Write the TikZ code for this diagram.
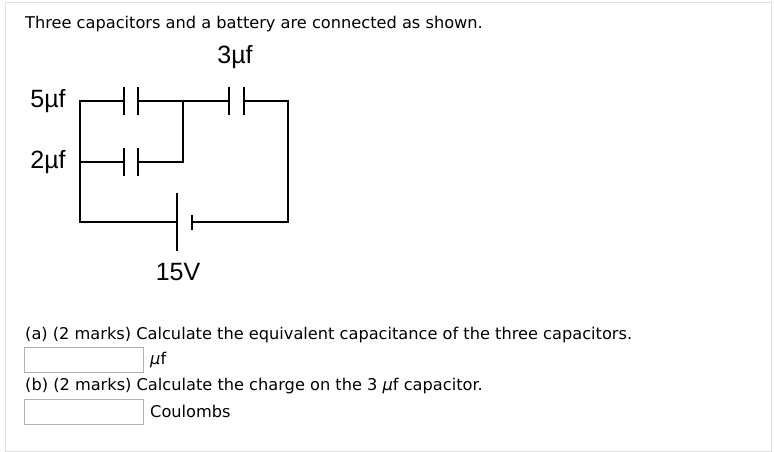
\documentclass[tikz,border=0pt]{standalone}
\usepackage{fontspec}
\setmainfont{DejaVu Sans}
\newfontfamily\arial{Liberation Sans}
\begin{document}
\begin{tikzpicture}[x=1pt,y=-1pt,
  wire/.style={line width=1.4pt},
  plate/.style={line width=1.6pt},
  lbl/.style={font=\arial\fontsize{25}{27}\selectfont,inner sep=0},
  txt/.style={font=\fontsize{16.2}{18}\selectfont,anchor=west,inner sep=0},
  ans/.style={draw=gray!60,line width=0.8pt}]
\useasboundingbox (0,0) rectangle (774,452);
\draw[gray!25,line width=1pt] (5,3) rectangle (771,451);
\node[txt] (t) at (25,24) {Three capacitors and a battery are connected as shown.};
% circuit coordinates
\coordinate (tl) at (80,101); \coordinate (c5a) at (124,101); \coordinate (c5b) at (138,101);
\coordinate (j) at (183,101); \coordinate (c3a) at (229,101); \coordinate (c3b) at (244,101);
\coordinate (tr) at (288,101); \coordinate (br) at (288,222); \coordinate (bl) at (80,222);
\coordinate (ml) at (80,162); \coordinate (c2a) at (124,162); \coordinate (c2b) at (138,162);
\coordinate (mj) at (183,162); \coordinate (ba) at (177,222); \coordinate (bb) at (192,222);
\draw[wire] (c5a) -- (tl) -- (bl) -- (ba);
\draw[wire] (c5b) -- (j) -- (c3a);
\draw[wire] (c3b) -- (tr) -- (br) -- (bb);
\draw[wire] (ml) -- (c2a);
\draw[wire] (c2b) -- (mj) -- (j);
\foreach \p in {c5a,c5b,c3a,c3b,c2a,c2b}{\draw[plate] ([yshift=-14]\p) -- ([yshift=14]\p);}
\draw[plate] ([yshift=-29]ba) -- ([yshift=29]ba);
\draw[plate] ([yshift=-8]bb) -- ([yshift=7]bb);
\node[lbl] (l5) at (48,101) {5µf};
\node[lbl] (l2) at (48,162) {2µf};
\node[lbl] (l3) at (235,57) {3µf};
\node[lbl] (lv) at (178,272) {15V};
\node[txt] (qa) at (25,335) {(a) (2 marks) Calculate the equivalent capacitance of the three capacitors.};
\draw[ans] (24,347) rectangle (143,372);
\node[txt] (ua) at (150,360) {\textit{µ}f};
\node[txt] (qb) at (25,386) {(b) (2 marks) Calculate the charge on the 3 \textit{µ}f capacitor.};
\draw[ans] (24,399) rectangle (143,424);
\node[txt] (ub) at (150,411) {Coulombs};
\end{tikzpicture}
\end{document}
